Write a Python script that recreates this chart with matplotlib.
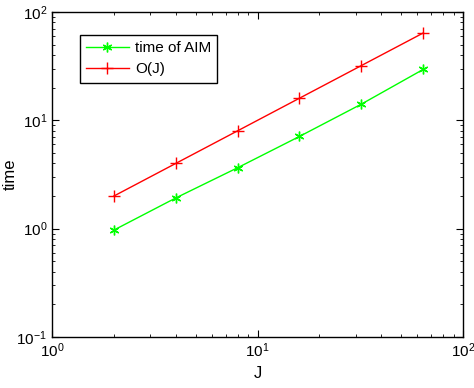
import matplotlib
matplotlib.use("Agg")
import matplotlib.pyplot as plt

J = [2, 4, 8, 16, 32, 64]
time_aim = [0.97, 1.92, 3.65, 7.1, 14.1, 29.5]
order_j = [2, 4, 8, 16, 32, 64]

plt.rcParams["font.family"] = ["Liberation Sans", "DejaVu Sans"]
plt.rcParams["mathtext.fontset"] = "custom"
plt.rcParams["mathtext.rm"] = "Liberation Sans"

fig = plt.figure(figsize=(4.74, 3.88), dpi=100)
ax = fig.add_axes([52 / 474, 1 - 337 / 388, 411 / 474, 325 / 388])

ax.plot(J, time_aim, color="#00ff00", marker=(6, 2, 0), markersize=7,
        linewidth=1, label="time of AIM")
ax.plot(J, order_j, color="#ff0000", marker="+", markersize=8,
        linewidth=1, label="O(J)")

ax.set_xscale("log")
ax.set_yscale("log")
ax.set_xlim(1, 100)
ax.set_ylim(0.1, 100)
ax.set_xlabel("J", fontsize=12)
ax.set_ylabel("time", fontsize=12)
ax.yaxis.set_label_coords(-0.083, 0.5)
ax.tick_params(which="both", direction="in", top=True, right=True, labelsize=11)
ax.tick_params(which="major", length=5)
ax.tick_params(which="minor", length=2.5)
for s in ax.spines.values():
    s.set_linewidth(1)

leg = ax.legend(loc="upper left", bbox_to_anchor=(0.068, 0.93), fontsize=11,
                fancybox=False, edgecolor="black", framealpha=1,
                handlelength=2.8, handletextpad=0.4, borderpad=0.4,
                borderaxespad=0)
leg.get_frame().set_linewidth(1)

fig.savefig("out.png", dpi=100)
